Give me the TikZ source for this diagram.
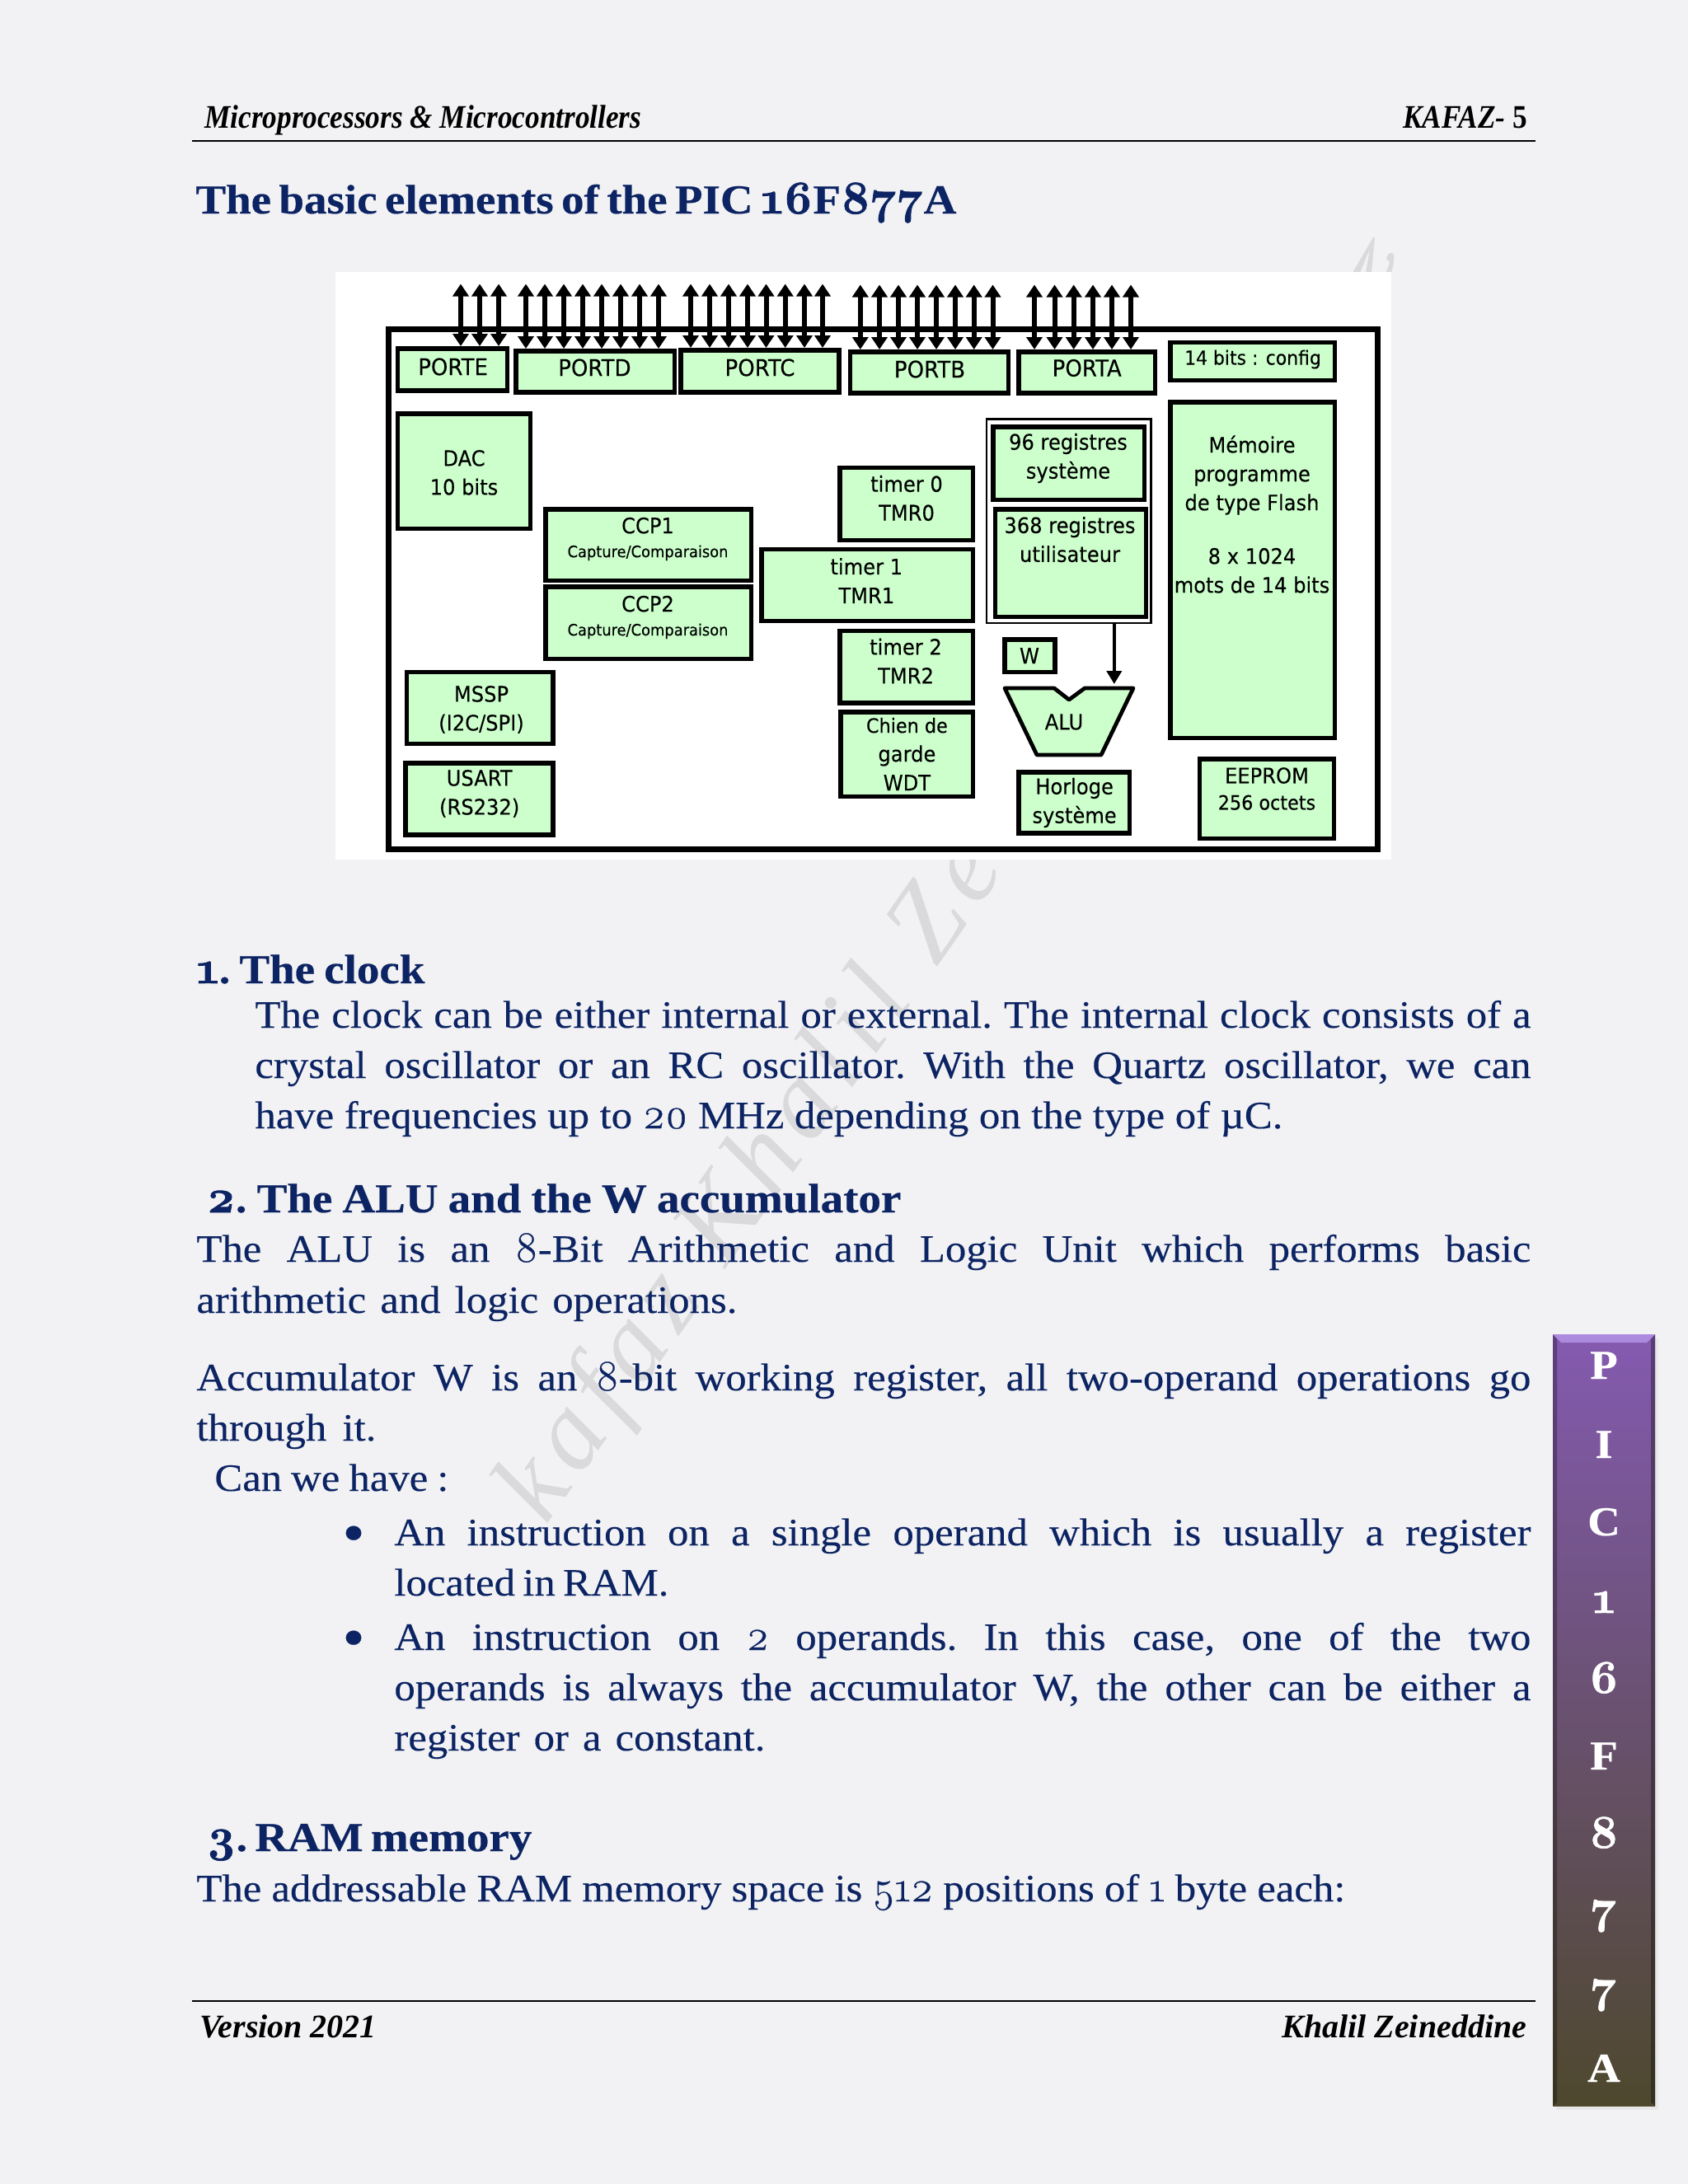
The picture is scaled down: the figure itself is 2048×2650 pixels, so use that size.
\documentclass[tikz,border=0pt]{standalone}
\usepackage{fontspec}
\usetikzlibrary{arrows.meta,calc}
\setmainfont{Liberation Serif}
\newfontfamily\bodyf[FakeStretch=1.08,FakeBold=0.25]{Liberation Serif}
\newfontfamily\headf[FakeStretch=1.1,FakeBold=0.4]{Liberation Serif}
\newfontfamily\curf[FakeStretch=0.88]{Liberation Serif}
\newfontfamily\curg[FakeStretch=1.0]{Liberation Serif}
\newfontfamily\osf[Numbers=OldStyle,FakeBold=0.6,Scale=1.12]{Latin Modern Roman}
\newfontfamily\osb[Numbers=OldStyle,FakeBold=1.4,Scale=1.14]{Latin Modern Roman}
\newfontfamily\dia[FakeStretch=0.93,FakeBold=0.12]{DejaVu Sans}
\newfontfamily\wmf[LetterSpace=10.5]{Liberation Serif}
\newcommand\os[1]{{\osf #1}}
\newcommand\osh[1]{{\osb\bfseries #1}}
\newcommand\prt[1]{{\fontsize{14}{17}\selectfont #1}}
\definecolor{pagebg}{HTML}{F2F2F4}
\definecolor{navy}{HTML}{0C2463}
\definecolor{boxg}{HTML}{CCFFCC}
\definecolor{wm}{HTML}{DADADC}
\definecolor{barT}{HTML}{845AB0}
\definecolor{barM}{HTML}{705A87}
\definecolor{barB}{HTML}{4E482E}
\definecolor{barE}{HTML}{AC8ADE}
\tikzset{
  bx/.style={draw=black,fill=boxg,line width=2.75pt,inner sep=0pt},
  lbl/.style={font=\dia\fontsize{13}{17.5}\selectfont,align=center,inner sep=0pt,text=black},
  bodytxt/.style={font=\bodyf\frenchspacing\fontsize{23.5}{30}\selectfont,text=navy,anchor=base west,inner sep=0pt},
  bultxt/.style={font=\bodyf\fontsize{36}{40}\selectfont,text=navy,anchor=base,inner sep=0pt},
  headtxt/.style={font=\headf\bfseries\frenchspacing\fontsize{25}{30}\selectfont,text=navy,anchor=base west,inner sep=0pt},
  cursive/.style={font=\curf\bfseries\itshape\fontsize{20}{24}\selectfont,text=black,anchor=base west,inner sep=0pt},
  cursiveb/.style={font=\curg\bfseries\itshape\fontsize{20}{24}\selectfont,text=black,anchor=base west,inner sep=0pt},
  biarrow/.style={line width=3pt,{Triangle[width=9.5pt,length=7.5pt]}-{Triangle[width=9.5pt,length=7.5pt]}},
  sidetxt/.style={font=\headf\bfseries\fontsize{25}{30}\selectfont,text=white,anchor=base,inner sep=0pt},
}
% {name}{x1}{y1}{x2}{y2}{tx}{ty}{text}
\newcommand\bxn[8]{%
  \node[bx,minimum width={(#4-#2-5.5)*0.5pt},minimum height={(#5-#3-5.5)*0.5pt}] (#1) at ({(#2+#4)/2},{(#3+#5)/2}) {};
  \node[lbl] (#1-t) at (#6,#7) {#8};}
\newcommand\tl[5]{\node[bodytxt] (#1) at (#2,#3) {\makebox[\dimexpr #4pt/2\relax][s]{#5}};}
\newcommand\hl[5]{\node[headtxt] (#1) at (#2,#3) {\makebox[\dimexpr #4pt/2\relax][s]{#5}};}
\begin{document}
\begin{tikzpicture}[x=0.5pt,y=-0.5pt]
\path[use as bounding box,fill=pagebg] (0,0) rectangle (2048,2650);
% watermark
\node[font=\wmf\itshape\fontsize{66}{72}\selectfont,inner sep=0pt,anchor=base west,rotate=55,text=wm] (wmark) at (662,1852)
  {kafaz Khalil Zeineddine};
\fill[wm] (1641,331) -- (1666,288) -- (1668,288) -- (1664,331) -- (1657,331) -- (1662,302) -- (1650,331) -- cycle;
\fill[wm] (1684,309) .. controls (1690,304) and (1692,308) .. (1691,315) .. controls (1691,322) and (1689,327) .. (1688,331) -- (1681,331) .. controls (1684,325) and (1686,320) .. (1686,317) .. controls (1682,316) and (1681,312) .. (1684,309) -- cycle;
% header
\node[cursive] (hL) at (248,155) {Microprocessors \& Microcontrollers};
\node[cursive] (hR) at (1702,155) {KAFAZ- \textup{5}};
\coordinate (rTa) at (233,171);
\coordinate (rTb) at (1863,171);
\draw[line width=1.3pt] (rTa) -- (rTb);
\coordinate (rBa) at (233,2428);
\coordinate (rBb) at (1863,2428);
\draw[line width=1.1pt] (rBa) -- (rBb);
\node[cursiveb] (fL) at (242,2472) {Version 2021};
\node[cursiveb] (fR) at (1555,2472) {Khalil Zeineddine};
% title
\hl{title}{237}{259}{923}{The basic elements of the PIC \osh{16}F\osh{877}A}
% picture background
\fill[white] (407,330) rectangle (1688,1043);
\node[draw=black,line width=3.5pt,fill=white,inner sep=0pt,minimum width=600pt,minimum height=315.5pt] (chip) at (1071.5,714.5) {};
% ports
\bxn{porte}{479.5}{420}{618}{476.7}{549.6}{445}{\prt{PORTE}}
\bxn{portd}{623}{423}{821}{478.6}{721.4}{446}{\prt{PORTD}}
\bxn{portc}{823}{422}{1020.5}{478.6}{922}{446}{\prt{PORTC}}
\bxn{portb}{1028.6}{424}{1226}{479.5}{1128}{448}{\prt{PORTB}}
\bxn{porta}{1233}{424}{1404}{479.5}{1318.7}{446.5}{\prt{PORTA}}
\bxn{cfg}{1417}{412.5}{1622}{464.4}{1520}{436}{{\fontsize{11.8}{15}\selectfont 14 bits : config}}
\bxn{flash}{1417}{485}{1622}{898}{1519}{624}{Mémoire\\programme\\de type Flash\\[15pt]8 x 1024\\mots de 14 bits}
\bxn{dac}{479.5}{499}{646.4}{644}{563}{573.4}{DAC\\10 bits}
\bxn{ccp1}{659}{615.4}{914}{707}{786}{654}{CCP1\\[-3pt]{\fontsize{9.6}{12}\selectfont Capture/Comparaison}}
\bxn{ccp2}{659}{709}{914}{802}{786}{749}{CCP2\\[-3pt]{\fontsize{9.6}{12}\selectfont Capture/Comparaison}}
\bxn{mssp}{490.6}{812.7}{673.7}{905}{584}{861}{MSSP\\(I2C/SPI)}
\bxn{usart}{489}{923}{673.7}{1015.6}{581.7}{963}{USART\\(RS232)}
\bxn{tmr0}{1016}{564.5}{1183}{658}{1100}{604.5}{timer 0\\TMR0}
\bxn{tmr1}{921}{663.6}{1183}{756}{1051.3}{704.6}{timer 1\\TMR1}
\bxn{tmr2}{1016}{762.7}{1183}{855.6}{1099}{802}{timer 2\\TMR2}
\bxn{wdt}{1017}{861}{1183}{969}{1100.4}{915}{\fontsize{12}{15.8}\selectfont Chien de\\garde\\WDT}
\node[draw=black,line width=1.4pt,fill=white,inner sep=0pt,minimum width=99.8pt,minimum height=123.8pt] (regs) at (1296.75,632.25) {};
\bxn{r96}{1202}{515}{1391}{609}{1296}{556}{96 registres\\système}
\bxn{r368}{1204.5}{615}{1393}{751}{1298}{654.6}{368 registres\\utilisateur}
\bxn{w}{1216}{773}{1282.6}{818}{1249}{795.7}{W}
\draw[draw=black,fill=boxg,line width=2.4pt,line join=round]
  (1219,835) -- (1279,835) -- (1297,849) -- (1316,835) -- (1375,835) -- (1336,916) -- (1258,916) -- cycle;
\node[lbl] (alu) at (1291,876) {ALU};
\coordinate (alutip) at (1351.8,830);
\draw[line width=2.3pt,-{Triangle[width=9pt,length=8pt]}] (regs.south -| alutip) -- (alutip);
\bxn{clk}{1233}{934.4}{1373}{1013.7}{1303.6}{974}{Horloge\\système}
\bxn{eep}{1452.7}{918.4}{1621}{1020}{1537}{957}{EEPROM\\[-1.5pt]{\fontsize{12}{16}\selectfont 256 octets}}
% pin arrows
\foreach \x in {559,582,605}{\coordinate (t) at (\x,344.5); \draw[biarrow] (t) -- (t |- porte.north);}
\foreach \x in {638,661,684,707,730,753,776,799}{\coordinate (t) at (\x,344.5); \draw[biarrow] (t) -- (t |- portd.north);}
\foreach \x in {838,861,884,907,929.5,952.7,976,998}{\coordinate (t) at (\x,344.5); \draw[biarrow] (t) -- (t |- portc.north);}
\foreach \x in {1043.8,1067,1090,1113,1136,1159,1181.7,1204.5}{\coordinate (t) at (\x,345.5); \draw[biarrow] (t) -- (t |- portb.north);}
\foreach \x in {1255,1279.5,1302.7,1326,1349,1372}{\coordinate (t) at (\x,345.5); \draw[biarrow] (t) -- (t |- porta.north);}
% section 1
\hl{h1}{238}{1193}{277}{\osh{1}. The clock}
\tl{a1}{309}{1247}{1548}{The clock can be either internal or external. The internal clock consists of a}
\tl{a2}{309}{1308}{1548}{crystal oscillator or an RC oscillator. With the Quartz oscillator, we can}
\tl{a3}{309}{1369}{1247}{have frequencies up to \os{20} MHz depending on the type of µC.}
% section 2
\hl{h2}{250}{1471}{843}{\osh{2}. The ALU and the W accumulator}
\tl{b1}{238}{1531}{1619}{The ALU is an \os{8}-Bit Arithmetic and Logic Unit which performs basic}
\tl{b2}{238}{1593}{656}{arithmetic and logic operations.}
\tl{b3}{238}{1687}{1619}{Accumulator W is an \os{8}-bit working register, all two-operand operations go}
\tl{b4}{238}{1748}{218}{through it.}
\tl{b5}{260}{1809}{284}{Can we have :}
\node[bultxt] (bu1) at (429,1884) {•};
\tl{c1}{478}{1875}{1379}{An instruction on a single operand which is usually a register}
\tl{c2}{478}{1936}{333}{located in RAM.}
\node[bultxt] (bu2) at (429,2011) {•};
\tl{d1}{478}{2002}{1379}{An instruction on \os{2} operands. In this case, one of the two}
\tl{d2}{478}{2063}{1379}{operands is always the accumulator W, the other can be either a}
\tl{d3}{478}{2124}{450}{register or a constant.}
% section 3
\hl{h3}{250}{2246}{395}{\osh{3}. RAM memory}
\tl{e1}{238}{2307}{1394}{The addressable RAM memory space is \os{512} positions of \os{1} byte each:}
% side bar
\fill[black!9] (1888,1624) rectangle (2012,2560);
\shade[top color=barT,middle color=barM,bottom color=barB] (1884,1619) rectangle (2008,2555);
\fill[black,opacity=0.28] (1884,1619) -- (1889,1625) -- (1889,2551) -- (1884,2555) -- cycle;
\fill[black,opacity=0.32] (2008,1619) -- (2003,1625) -- (2003,2551) -- (2008,2555) -- cycle;
\fill[barE] (1884,1619) -- (2008,1619) -- (1998,1629) -- (1894,1629) -- cycle;
\node[sidetxt] (sP) at (1946,1673) {P};
\node[sidetxt] (sI) at (1946,1769) {I};
\node[sidetxt] (sC) at (1946,1863) {C};
\node[sidetxt] (s1) at (1946,1957) {\osh{1}};
\node[sidetxt] (s6) at (1946,2054) {\osh{6}};
\node[sidetxt] (sF) at (1946,2147) {F};
\node[sidetxt] (s8) at (1946,2242) {\osh{8}};
\node[sidetxt] (s7a) at (1946,2333) {\osh{7}};
\node[sidetxt] (s7b) at (1946,2429) {\osh{7}};
\node[sidetxt] (sA) at (1946,2526) {A};
\end{tikzpicture}
\end{document}
